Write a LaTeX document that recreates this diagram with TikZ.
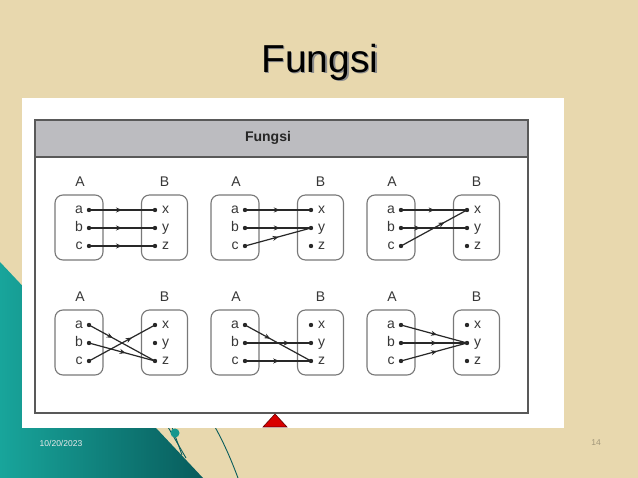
\documentclass[tikz,border=0pt]{standalone}
\usepackage{fontspec}
\setmainfont{Liberation Sans}
\usetikzlibrary{arrows.meta,decorations.markings}
\definecolor{parch}{RGB}{232,216,174}
\definecolor{tealL}{RGB}{24,165,155}
\definecolor{tealD}{RGB}{8,92,92}
\definecolor{boxgray}{RGB}{120,120,120}
\definecolor{txtgray}{RGB}{55,55,55}
\definecolor{arrgray}{RGB}{40,40,40}
\definecolor{hdrgray}{RGB}{188,188,192}
\tikzset{
  boxst/.style={draw=boxgray, line width=1.1pt, rounded corners=8pt, inner sep=0pt},
  lab/.style={text=txtgray, font=\fontsize{14}{15}\selectfont, inner sep=0pt, text height=1.6ex, text depth=0.2ex},
  dotst/.style={circle, fill=arrgray, inner sep=0pt, minimum size=4.4pt},
  arr/.style={draw=arrgray, line width=1.2pt, shorten <=-1pt, shorten >=-1pt,
    postaction={decorate, decoration={markings, mark=at position #1 with {\arrow{Stealth[length=6pt,width=5pt]}}}}},
  decoline/.style={draw=tealD, line width=0.9pt}
}
\newcommand\mappanel[3]{%
  \begin{scope}[shift={(#2,#3)}]
    \node[boxst, minimum width=48pt, minimum height=65pt] (#1A) at (0,-0.5) {};
    \node[boxst, minimum width=46pt, minimum height=65pt] (#1B) at (85.5,-0.5) {};
    \node[lab] (#1LA) at (1,-45) {A};
    \node[lab] (#1LB) at (85.5,-45) {B};
    \node[lab] (#1a) at (0,-18) {a};
    \node[lab] (#1b) at (0,0) {b};
    \node[lab] (#1c) at (0,18) {c};
    \node[lab] (#1x) at (86.5,-18) {x};
    \node[lab] (#1y) at (86.5,0) {y};
    \node[lab] (#1z) at (86.5,18) {z};
    \node[dotst] (#1da) at (10,-18) {};
    \node[dotst] (#1db) at (10,0) {};
    \node[dotst] (#1dc) at (10,18) {};
    \node[dotst] (#1dx) at (76,-18) {};
    \node[dotst] (#1dy) at (76,0) {};
    \node[dotst] (#1dz) at (76,18) {};
  \end{scope}}
\begin{document}
\begin{tikzpicture}[x=1pt,y=-1pt]
  % background
  \fill[parch] (0,0) rectangle (638,478);
  \useasboundingbox (0,0) rectangle (638,478);
  % teal corner
  \shade[left color=tealL, right color=tealD] (0,262) -- (203,478) -- (0,478) -- cycle;
  \draw[decoline] (168,427) -- (186,458);
  \draw[decoline] (172,427) -- (182,455);
  \draw[decoline] (215,427) .. controls (225,445) and (232,462) .. (238,478);
  \fill[tealL!80!tealD] (175,433) circle (4.5pt);
  % title
  \node[text=black!45, font=\fontsize{39}{40}\selectfont] at (321.5,63.5) {Fungsi};
  \node[text=black, font=\fontsize{39}{40}\selectfont] (title) at (320,62) {Fungsi};
  % white panel
  \fill[white] (22,98) rectangle (564,428);
  % inner frame
  \fill[hdrgray] (35,120) rectangle (528,157);
  \draw[black!65, line width=1.2pt] (35,157) -- (528,157);
  \draw[black!65, line width=1.4pt] (35,120) rectangle (528,413);
  \node[font=\bfseries\fontsize{14}{15}\selectfont, text=black!85] (hdr) at (268,138) {Fungsi};
  % red triangle
  \fill[red!85!black, draw=red!40!black, line width=0.6pt] (275,414) -- (263,427) -- (287,427) -- cycle;
  % panels
  \mappanel{p1}{79}{228}
  \mappanel{p2}{235}{228}
  \mappanel{p3}{391}{228}
  \mappanel{p4}{79}{343}
  \mappanel{p5}{235}{343}
  \mappanel{p6}{391}{343}
  % mappings
  \draw[arr=0.5] (p1da) -- (p1dx);
  \draw[arr=0.5] (p1db) -- (p1dy);
  \draw[arr=0.5] (p1dc) -- (p1dz);
  \draw[arr=0.53] (p2da) -- (p2dx);
  \draw[arr=0.53] (p2db) -- (p2dy);
  \draw[arr=0.51] (p2dc) -- (p2dy);
  \draw[arr=0.51] (p3da) -- (p3dx);
  \draw[arr=0.28] (p3db) -- (p3dy);
  \draw[arr=0.67] (p3dc) -- (p3dx);
  \draw[arr=0.35] (p4da) -- (p4dz);
  \draw[arr=0.56] (p4db) -- (p4dz);
  \draw[arr=0.66] (p4dc) -- (p4dx);
  \draw[arr=0.375] (p5da) -- (p5dz);
  \draw[arr=0.69] (p5db) -- (p5dy);
  \draw[arr=0.52] (p5dc) -- (p5dz);
  \draw[arr=0.55] (p6da) -- (p6dy);
  \draw[arr=0.55] (p6db) -- (p6dy);
  \draw[arr=0.55] (p6dc) -- (p6dy);
  % footer
  \node[text=white!85!gray, font=\fontsize{8.5}{9}\selectfont] (date) at (61,443) {10/20/2023};
  \node[text=parch!70!black, font=\fontsize{8.5}{9}\selectfont] (page) at (596,443) {14};
\end{tikzpicture}
\end{document}
